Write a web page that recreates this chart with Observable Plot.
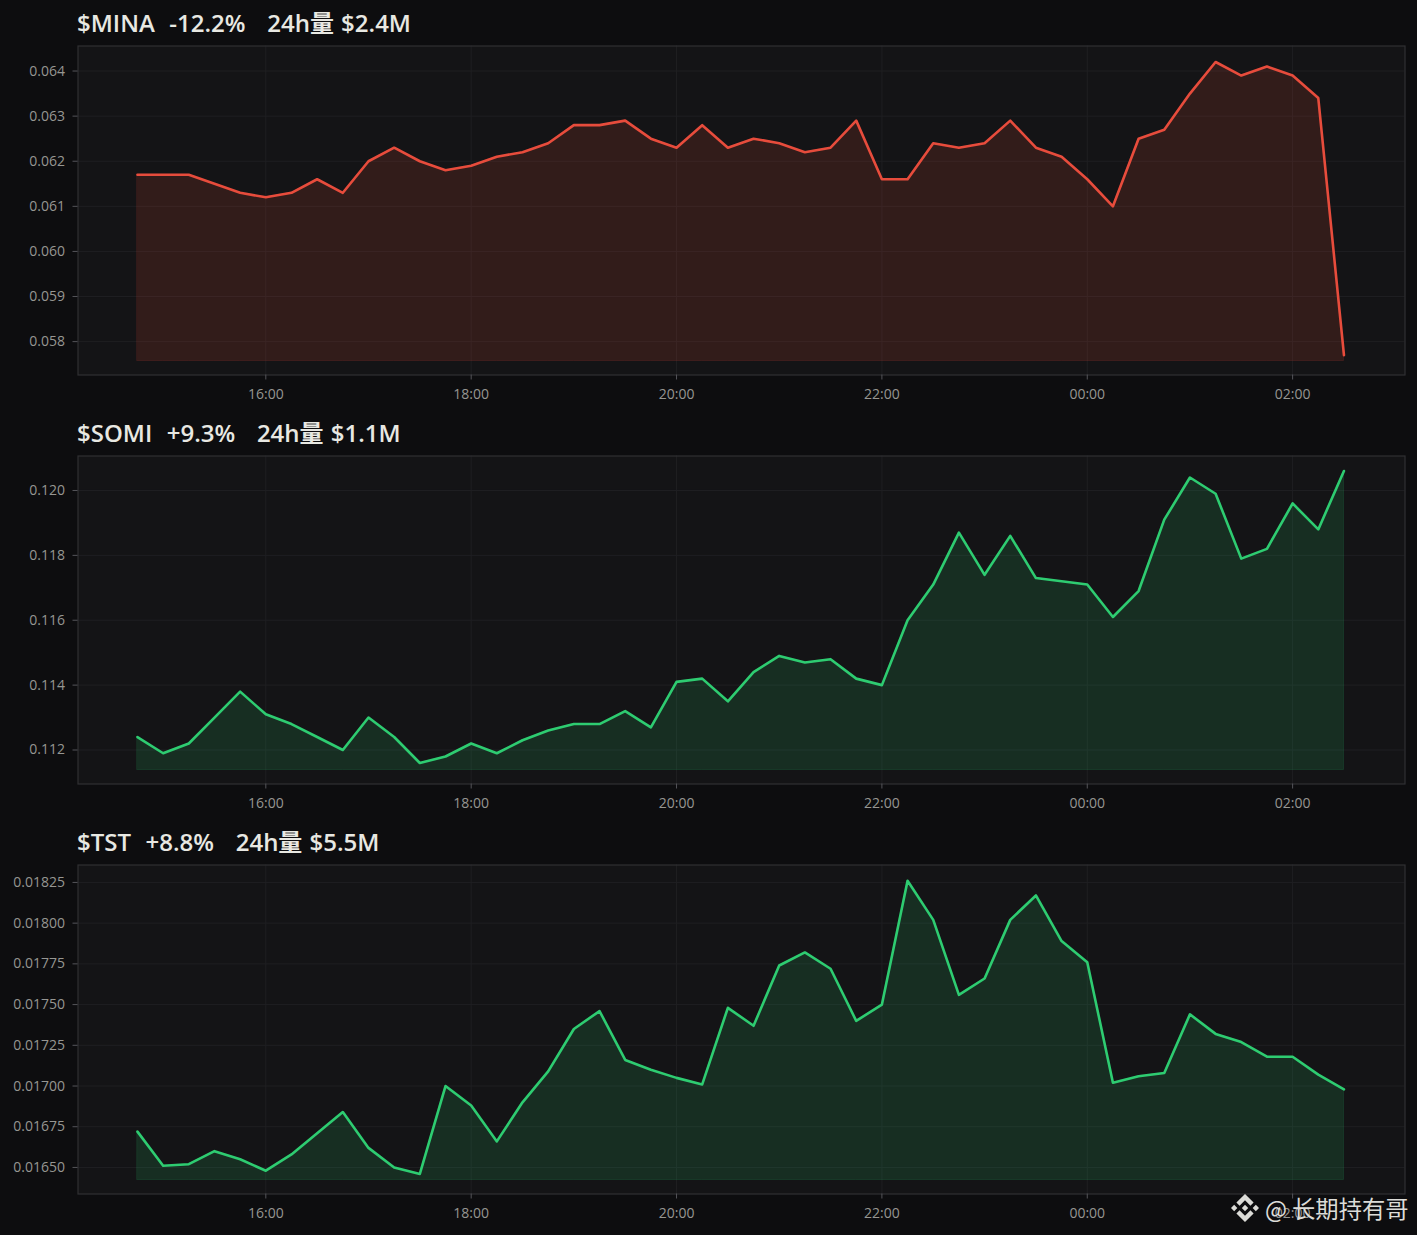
<!DOCTYPE html>
<html><head><meta charset="utf-8">
<script src="https://cdn.jsdelivr.net/npm/d3@7"></script>
<script src="https://cdn.jsdelivr.net/npm/@observablehq/plot@0.6"></script>
<style>
html,body{margin:0;padding:0;background:#0d0d0f;width:1417px;height:1235px;overflow:hidden}
#root{position:relative;width:1417px;height:1235px}
.panel{position:absolute;left:0;width:1417px}
.title{position:absolute;left:77px;top:6px;font:600 24px "Open Sans","Noto Sans CJK SC",sans-serif;word-spacing:1px;color:#e8e8e2;white-space:pre;line-height:34px}
.panel svg{position:absolute;left:0;top:44px;display:block;background:transparent}
#mark{position:absolute;left:1231px;top:1194px;display:flex;align-items:center;color:#dcdcd8;font:23.3px "Noto Sans CJK SC",sans-serif;line-height:28px;white-space:pre}
#mark svg{width:28px;height:28px;margin-right:6px;fill:#dcdcd8}
#mark b{font-weight:400;letter-spacing:5px}
</style></head>
<body><div id="root"></div>
<script>
const times = ["14:45","15:00","15:15","15:30","15:45","16:00","16:15","16:30","16:45","17:00","17:15","17:30","17:45","18:00","18:15","18:30","18:45","19:00","19:15","19:30","19:45","20:00","20:15","20:30","20:45","21:00","21:15","21:30","21:45","22:00","22:15","22:30","22:45","23:00","23:15","23:30","23:45","00:00","00:15","00:30","00:45","01:00","01:15","01:30","01:45","02:00","02:15","02:30"];
const minaValues = [.0617,.0617,.0617,.0615,.0613,.0612,.0613,.0616,.0613,.0620,.0623,.0620,.0618,.0619,.0621,.0622,.0624,.0628,.0628,.0629,.0625,.0623,.0628,.0623,.0625,.0624,.0622,.0623,.0629,.0616,.0616,.0624,.0623,.0624,.0629,.0623,.0621,.0616,.0610,.0625,.0627,.0635,.0642,.0639,.0641,.0639,.0634,.0577];
const somiValues = [.1124,.1119,.1122,.1130,.1138,.1131,.1128,.1124,.1120,.1130,.1124,.1116,.1118,.1122,.1119,.1123,.1126,.1128,.1128,.1132,.1127,.1141,.1142,.1135,.1144,.1149,.1147,.1148,.1142,.1140,.1160,.1171,.1187,.1174,.1186,.1173,.1172,.1171,.1161,.1169,.1191,.1204,.1199,.1179,.1182,.1196,.1188,.1206];
const tstValues = [.01672,.01651,.01652,.01660,.01655,.01648,.01658,.01671,.01684,.01662,.01650,.01646,.01700,.01688,.01666,.01690,.01709,.01735,.01746,.01716,.01710,.01705,.01701,.01748,.01737,.01774,.01782,.01772,.01740,.01750,.01826,.01802,.01756,.01766,.01802,.01817,.01789,.01776,.01702,.01706,.01708,.01744,.01732,.01727,.01718,.01718,.01707,.01698];
const minaTicks = [.058,.059,.060,.061,.062,.063,.064];
const somiTicks = [.112,.114,.116,.118,.120];
const tstTicks = [.0165,.01675,.017,.01725,.0175,.01775,.018,.01825];
const timeTicks = ["2024-01-01T16:00Z","2024-01-01T18:00Z","2024-01-01T20:00Z","2024-01-01T22:00Z","2024-01-02T00:00Z","2024-01-02T02:00Z"].map(s=>new Date(s));
const xDomain = [new Date("2024-01-01T14:10:15Z"), new Date("2024-01-02T03:05:40Z")];
const RED="#e74c3c", GREEN="#2ecc71";

const dates = times.map(t=>{
  const h=+t.slice(0,2);
  return new Date(`2024-01-0${h<12?2:1}T${t}:00Z`);
});

const panels = [
 {title:"$MINA  -12.2%   24h量 $2.4M", values:minaValues, ticks:minaTicks, digits:3, color:RED,   top:0,      h:329, dom:[.05726,.064555], base:.05757},
 {title:"$SOMI  +9.3%   24h量 $1.1M", values:somiValues, ticks:somiTicks, digits:3, color:GREEN, top:409.5,  h:328, dom:[.110952,.121063], base:.111383},
 {title:"$TST  +8.8%   24h量 $5.5M",  values:tstValues,  ticks:tstTicks,  digits:5, color:GREEN, top:819,    h:329, dom:[.016337,.018357], base:.016423}
];
const root=document.getElementById("root");
const labelC="#969692", tickC="#55555a", gridC="#1f1f22", frameC="#2f2f33";
for(const p of panels){
  const rows=dates.map((d,i)=>({d,v:p.values[i]}));
  const chart=Plot.plot({
    width:1417,height:p.h+1.5+34,marginLeft:77.5,marginRight:12.5,marginTop:1.5,marginBottom:34,
    style:{background:"transparent",fontFamily:'"Open Sans",sans-serif',fontSize:"14px"},
    x:{type:"utc",domain:xDomain},
    y:{domain:p.dom},
    marks:[
      Plot.frame({fill:"#141416",stroke:"none"}),
      Plot.gridX(timeTicks,{stroke:gridC,strokeOpacity:1}),
      Plot.gridY(p.ticks,{stroke:gridC,strokeOpacity:1}),
      Plot.areaY(rows,{x:"d",y1:()=>p.base,y2:"v",fill:p.color,fillOpacity:.14,stroke:p.color,strokeOpacity:.15,strokeWidth:1}),
      Plot.lineY(rows,{x:"d",y:"v",stroke:p.color,strokeWidth:2.6,strokeLinejoin:"round"}),
      Plot.frame({stroke:frameC,strokeWidth:1.2}),
      Plot.axisX({ticks:timeTicks,tickFormat:d3.utcFormat("%H:%M"),tickSize:5,tickPadding:9,stroke:tickC,fill:labelC,label:null}),
      Plot.axisY({ticks:p.ticks,tickFormat:d=>d.toFixed(p.digits),tickSize:5,tickPadding:8,stroke:tickC,fill:labelC,label:null})
    ]
  });
  const div=document.createElement("div");
  div.className="panel";div.style.top=p.top+"px";div.style.height="409px";
  const t=document.createElement("div");t.className="title";t.textContent=p.title;
  div.appendChild(t);div.appendChild(chart);root.appendChild(div);
}
const mark=document.createElement("div");mark.id="mark";
mark.innerHTML='<svg viewBox="0 0 126.61 126.61"><path d="M38.73 53.2l24.59-24.58 24.6 24.6 14.3-14.31L63.32 0 24.43 38.9zM0 63.31L14.3 49l14.31 14.31-14.31 14.3zM38.73 73.41l24.59 24.59 24.6-24.6 14.31 14.29-38.9 38.91-38.91-38.88zM98 63.31L112.3 49l14.3 14.3-14.3 14.32zM77.83 63.3L63.32 48.78 52.59 59.51l-1.24 1.23-2.54 2.54 14.51 14.5 14.51-14.47z"/></svg><span><b>@</b>长期持有哥</span>';
root.appendChild(mark);
</script></body></html>
